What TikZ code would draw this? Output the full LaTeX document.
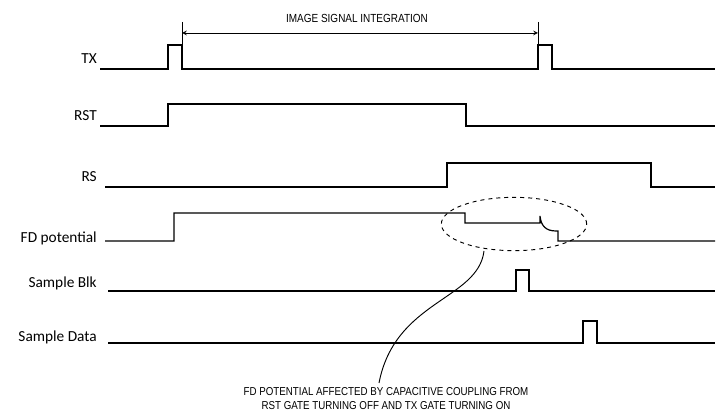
\documentclass[tikz,border=0pt]{standalone}
\usepackage{fontspec}
\setmainfont{Carlito}
\newfontfamily\annfont{Liberation Sans}[FakeStretch=0.85]
\usetikzlibrary{shapes.geometric}
\begin{document}
\begin{tikzpicture}[x=0.75pt,y=-0.75pt,
  sig/.style={line width=0.9pt},
  lab/.style={anchor=east,font=\fontsize{11.5}{13}\selectfont,inner sep=0},
  ann/.style={font=\fontsize{8.6}{10.5}\selectfont\annfont,inner sep=0,align=center}]
\useasboundingbox[fill=white] (0,0) rectangle (721,420);
\node[lab] (ltx) at (97,59) {TX};
\node[lab] (lrst) at (97,116) {RST};
\node[lab] (lrs) at (97,177) {RS};
\node[lab] (lfd) at (97,238) {FD potential};
\node[lab] (lblk) at (97,283) {Sample Blk};
\node[lab] (ldat) at (97,337) {Sample Data};
% TX
\draw[sig] (100,69) -- (168,69) -- (168,45) -- (182,45) -- (182,69) -- (538,69) -- (538,45) -- (552,45) -- (552,69) -- (715,69);
\coordinate (a1) at (182,22); \coordinate (a2) at (538,22);
\draw[line width=0.6pt] (a1) -- (182,45); \draw[line width=0.6pt] (a2) -- (538,45);
\draw[line width=0.6pt,-stealth] (360,33) -- (182,33);
\draw[line width=0.6pt,-stealth] (360,33) -- (538,33);
\node[ann,font=\fontsize{8.8}{10}\selectfont\annfont] (title) at (357,18) {IMAGE SIGNAL INTEGRATION};
% RST
\draw[sig] (100,126) -- (168,126) -- (168,104) -- (466,104) -- (466,126) -- (715,126);
% RS
\draw[sig] (105,187) -- (447,187) -- (447,163) -- (651,163) -- (651,187) -- (715,187);
% FD
\draw[sig] (105,241) -- (174,241) -- (174,213) -- (465,213) -- (465,223) -- (540,223) -- (540,216)
  .. controls (541,226) and (546,231) .. (556,231) -- (558,231) -- (558,241) -- (715,241);
\node[draw,dashed,line width=0.7pt,ellipse,minimum width=109pt,minimum height=40pt,inner sep=0] (ell) at (514,224) {};
% Sample Blk
\draw[sig] (108,291) -- (516,291) -- (516,270) -- (529,270) -- (529,291) -- (715,291);
% Sample Data
\draw[sig] (108,343) -- (583,343) -- (583,321) -- (597,321) -- (597,343) -- (715,343);
% annotation
\node[ann] (note) at (386,399) {FD POTENTIAL AFFECTED BY CAPACITIVE COUPLING FROM\\RST GATE TURNING OFF AND TX GATE TURNING ON};
\draw[line width=0.7pt] (484,251) .. controls (478,300) and (395,300) .. (379,383);
\end{tikzpicture}
\end{document}
